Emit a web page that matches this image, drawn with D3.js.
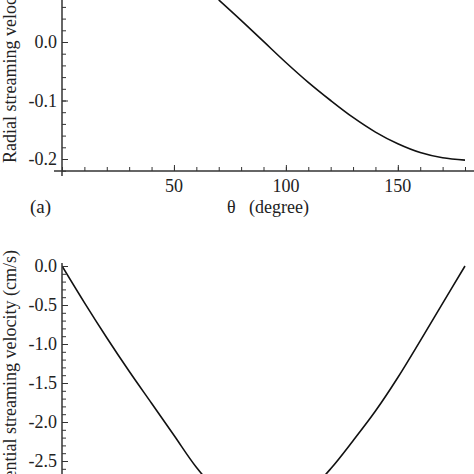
<!DOCTYPE html>
<html><head><meta charset="utf-8">
<script src="https://cdn.jsdelivr.net/npm/d3@7"></script>
<style>body{margin:0;background:#fff}</style>
</head><body><svg id="c" width="474" height="474" font-family="'Liberation Serif','Times New Roman','DejaVu Serif',serif" fill="#222"></svg>
<script>
// panel (a): radial streaming velocity
var thetaA = [70,80,90,100,110,120,130,140,150,160,170,180]
var radial = [0.072,0.037,0.001,-0.035,-0.069,-0.1,-0.129,-0.154,-0.174,-0.189,-0.198,-0.202]
// panel (b): tangential streaming velocity
var thetaB = [0,10,20,30,40,50,60,70,80,90,100,110,120,130,140,150,160,170,180]
var tangential = [0,-0.47,-0.92,-1.35,-1.76,-2.17,-2.58,-2.9,-3.1,-3.17,-3.1,-2.9,-2.6,-2.24,-1.86,-1.43,-0.96,-0.48,0]
var xTicks = [50,100,150]
var yTicksA = [0.0,-0.1,-0.2]
var yTicksB = [0.0,-0.5,-1.0,-1.5,-2.0,-2.5]

var svg = d3.select('#c')
var axisCol = '#333'
var x = d3.scaleLinear().domain([0,180]).range([62,465])
var fmt = function(d){ return d3.format('.1f')(d).replace('−','-') }

// ---- panel (a)
var yA = d3.scaleLinear().domain([0,-0.1]).range([42,100.5])
svg.append('clipPath').attr('id','ca').append('rect').attr('x',62).attr('y',0).attr('width',412).attr('height',171)
svg.append('path')
  .datum(thetaA.map(function(t,i){ return [t, radial[i]] }))
  .attr('clip-path','url(#ca)')
  .attr('fill','none').attr('stroke','#111').attr('stroke-width',1.6)
  .attr('d', d3.line().x(function(d){ return x(d[0]) }).y(function(d){ return yA(d[1]) }).curve(d3.curveCatmullRom))

svg.append('g').attr('transform','translate(0,171)')
  .call(d3.axisTop(x).tickValues(d3.range(0,181,10)).tickSize(4).tickFormat(''))
  .call(function(g){ g.select('.domain').remove() })
  .selectAll('line').attr('stroke',axisCol)
svg.append('g').attr('transform','translate(0,171)')
  .call(d3.axisTop(x).tickValues(xTicks).tickSize(6).tickFormat(''))
  .call(function(g){ g.select('.domain').remove() })
  .selectAll('line').attr('stroke',axisCol)
svg.append('line').attr('x1',54).attr('x2',474).attr('y1',171).attr('y2',171).attr('stroke',axisCol).attr('stroke-width',1.5)
svg.selectAll('.xl').data(xTicks).enter().append('text')
  .attr('x', function(d){ return x(d) }).attr('y',192).attr('text-anchor','middle')
  .attr('font-size',18).text(function(d){ return d })

svg.append('g').attr('transform','translate(62,0)')
  .call(d3.axisRight(yA).tickValues(d3.range(0.06,-0.221,-0.02)).tickSize(4).tickFormat(''))
  .call(function(g){ g.select('.domain').remove() })
  .selectAll('line').attr('stroke',axisCol)
svg.append('g').attr('transform','translate(62,0)')
  .call(d3.axisRight(yA).tickValues(yTicksA).tickSize(6).tickFormat(''))
  .call(function(g){ g.select('.domain').remove() })
  .selectAll('line').attr('stroke',axisCol)
svg.append('line').attr('x1',62).attr('x2',62).attr('y1',0).attr('y2',176).attr('stroke',axisCol).attr('stroke-width',1.5)
svg.selectAll('.yla').data(yTicksA).enter().append('text')
  .attr('x',57).attr('y', function(d){ return yA(d)+6 }).attr('text-anchor','end')
  .attr('font-size',18).text(fmt)

svg.append('text').attr('transform','translate(16,163) rotate(-90)')
  .attr('font-size',18).text('Radial streaming velocity (cm/s)')
svg.append('text').attr('x',30).attr('y',213).attr('font-size',19).text('(a)')
svg.append('text').attr('x',268).attr('y',213).attr('text-anchor','middle').attr('font-size',18)
  .attr('xml:space','preserve').text('θ   (degree)')

// ---- panel (b)
var yB = d3.scaleLinear().domain([0,-0.5]).range([266,305])
svg.append('clipPath').attr('id','cb').append('rect').attr('x',62).attr('y',240).attr('width',412).attr('height',234)
svg.append('path')
  .datum(thetaB.map(function(t,i){ return [t, tangential[i]] }))
  .attr('clip-path','url(#cb)')
  .attr('fill','none').attr('stroke','#111').attr('stroke-width',1.6)
  .attr('d', d3.line().x(function(d){ return x(d[0]) }).y(function(d){ return yB(d[1]) }).curve(d3.curveCatmullRom))

svg.append('g').attr('transform','translate(62,0)')
  .call(d3.axisRight(yB).tickValues(d3.range(0,-2.81,-0.1)).tickSize(4).tickFormat(''))
  .call(function(g){ g.select('.domain').remove() })
  .selectAll('line').attr('stroke',axisCol)
svg.append('g').attr('transform','translate(62,0)')
  .call(d3.axisRight(yB).tickValues(yTicksB).tickSize(6).tickFormat(''))
  .call(function(g){ g.select('.domain').remove() })
  .selectAll('line').attr('stroke',axisCol)
svg.append('line').attr('x1',62).attr('x2',62).attr('y1',263).attr('y2',474).attr('stroke',axisCol).attr('stroke-width',1.5)
svg.selectAll('.ylb').data(yTicksB).enter().append('text')
  .attr('x',57).attr('y', function(d){ return yB(d)+6 }).attr('text-anchor','end')
  .attr('font-size',18).text(fmt)
svg.append('text').attr('transform','translate(16,250) rotate(-90)').attr('text-anchor','end')
  .attr('font-size',18).text('Tangential streaming velocity (cm/s)')
</script></body></html>
